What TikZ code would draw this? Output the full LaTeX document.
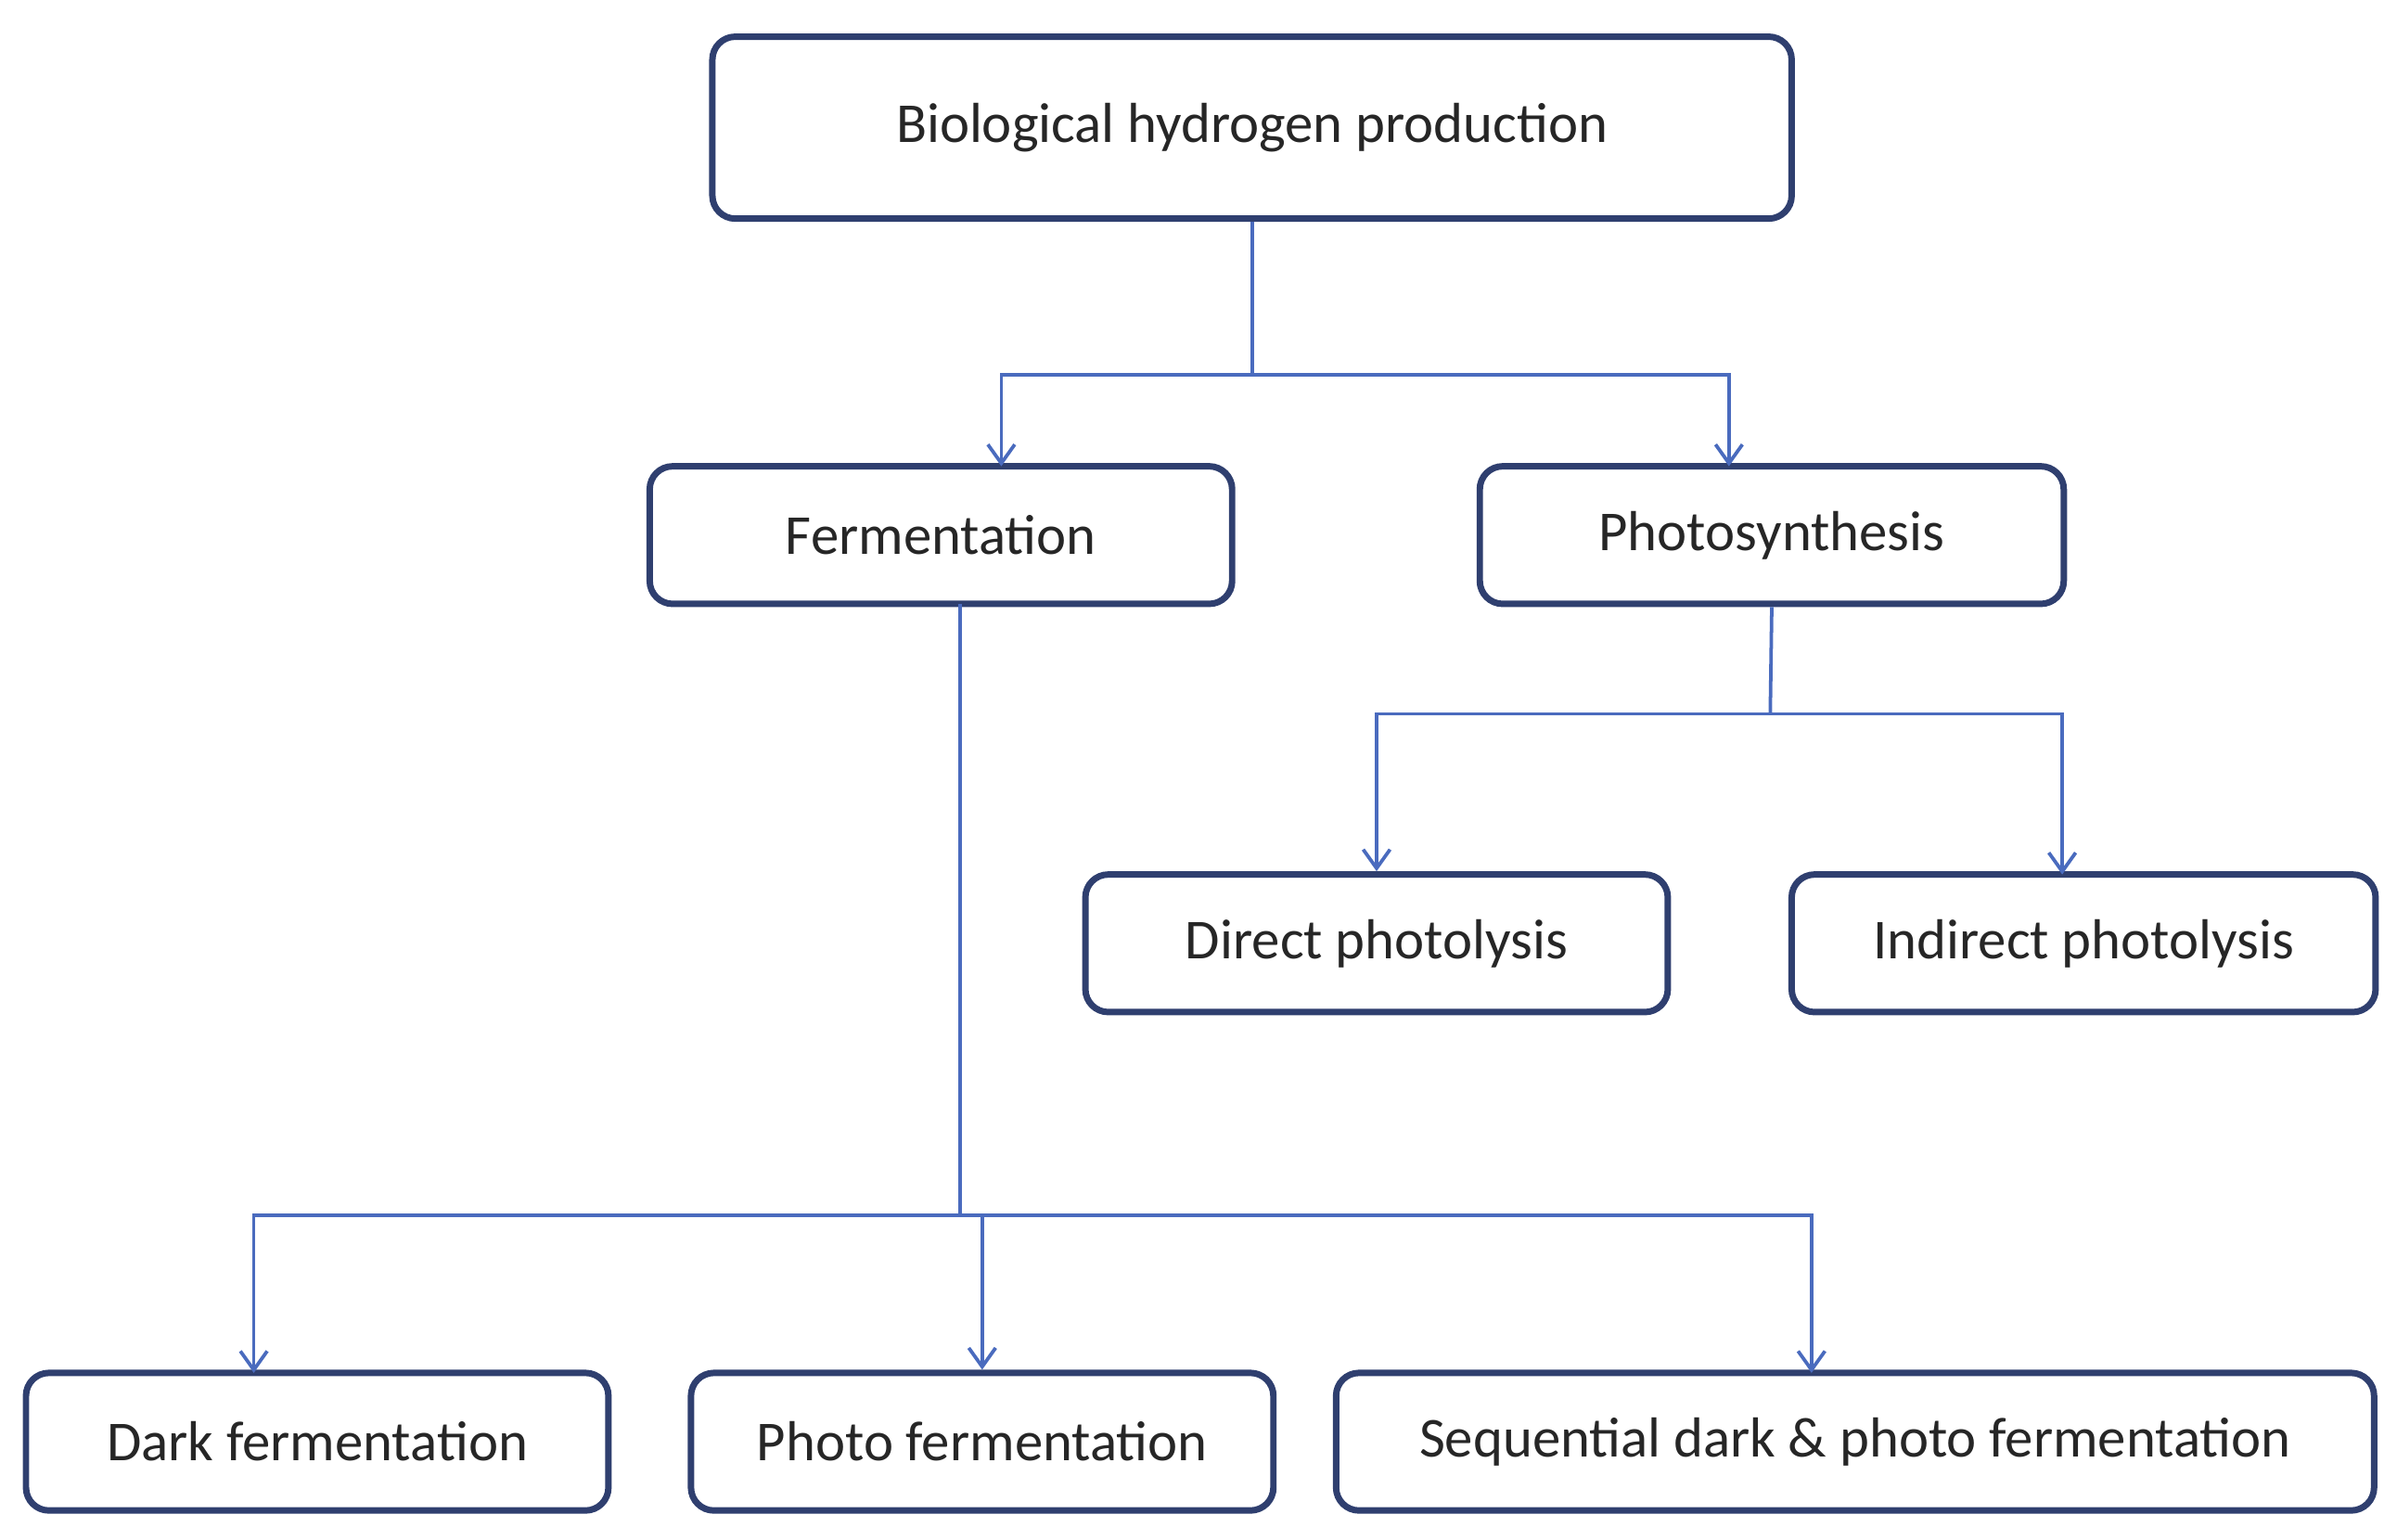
\documentclass[tikz,border=0pt]{standalone}
\usepackage{fontspec}
\setmainfont{Carlito}
\usetikzlibrary{arrows.meta}
\definecolor{boxc}{HTML}{2F3F6F}
\definecolor{linec}{HTML}{4A6BBE}
\begin{document}
\begin{tikzpicture}[x=0.02cm,y=-0.02cm,
  bx/.style={draw=boxc,line width=2.4pt,rounded corners=0.3cm,inner sep=0pt,font=\fontsize{21}{25}\selectfont,text=black!85},
  ln/.style={draw=linec,line width=1.3pt},
  ar/.style={ln,-{Straight Barb[length=7pt,width=10pt,line width=1.3pt]}}]
\useasboundingbox (0,0) rectangle (1568,1007);
\node[bx,minimum width=706*0.02cm,minimum height=119*0.02cm] (top) at (819,83.5) {Biological hydrogen production};
\node[bx,minimum width=381*0.02cm,minimum height=90*0.02cm] (fer) at (615.5,350) {Fermentation};
\node[bx,minimum width=382*0.02cm,minimum height=90*0.02cm] (pho) at (1159,350) {Photosynthesis};
\node[bx,minimum width=381*0.02cm,minimum height=90*0.02cm] (dir) at (900.5,617) {Direct photolysis};
\node[bx,minimum width=382*0.02cm,minimum height=90*0.02cm] (ind) at (1363,617) {Indirect photolysis};
\node[bx,minimum width=381*0.02cm,minimum height=90*0.02cm] (dark) at (207.5,943) {Dark fermentation};
\node[bx,minimum width=381*0.02cm,minimum height=90*0.02cm] (pf) at (642.5,943) {Photo fermentation};
\node[bx,minimum width=679*0.02cm,minimum height=90*0.02cm] (seq) at (1213.5,943) {Sequential dark \& photo fermentation};
\coordinate (j1) at (819,245);
\coordinate (j2) at (1158,467);
\coordinate (j3) at (628,795);
\draw[ln] (top.south) -- (j1);
\draw[ar] (j1) -| (655,305);
\draw[ar] (j1) -| (1131,305);
\draw[ln] (pho.south) -- (j2);
\draw[ar] (j2) -| (dir.north);
\draw[ar] (j2) -| (1349,572);
\draw[ln] (628,395) -- (j3);
\draw[ar] (j3) -| (166,898);
\draw[ar] (j3) -| (pf.north);
\draw[ar] (j3) -| (1185,898);
\end{tikzpicture}
\end{document}
